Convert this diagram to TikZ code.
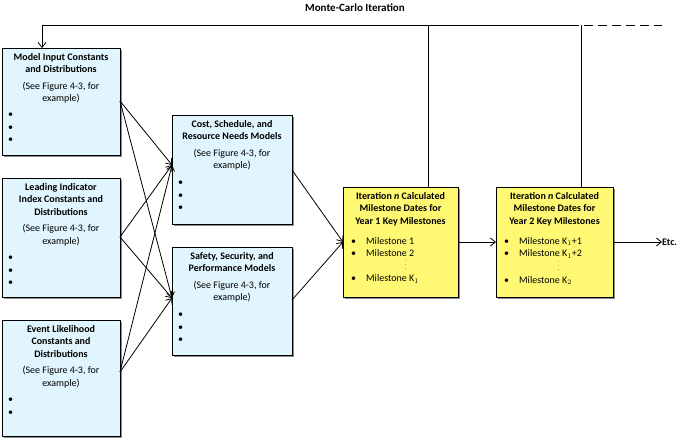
\documentclass[tikz,border=0pt]{standalone}
\usepackage{fontspec}
\setmainfont{Carlito}
\usetikzlibrary{arrows.meta,shadows}
\begin{document}
\begin{tikzpicture}[x=1pt,y=-1pt,
 box/.style={draw=black,line width=0.8pt,anchor=north west,inner sep=0,drop shadow={shadow xshift=2pt,shadow yshift=-2pt,fill=black!45,opacity=1}},
 cyan/.style={box,fill=cyan!12!white},
 yel/.style={box,fill=yellow!55!white},
 txt/.style={anchor=north,align=center,font=\fontsize{10}{12.5}\selectfont,inner sep=0},
 bul/.style={anchor=north west,align=left,font=\fontsize{10}{12.5}\selectfont,inner sep=0},
 ar/.style={-{Straight Barb[length=5pt,width=8pt]},line width=0.8pt},
 ln/.style={line width=0.8pt}]
\useasboundingbox (0,0) rectangle (685,441);
% boxes
\node[cyan,minimum width=118,minimum height=107] (i1) at (2,48) {};
\node[cyan,minimum width=118,minimum height=119] (i2) at (2,178) {};
\node[cyan,minimum width=118,minimum height=116] (i3) at (2,320) {};
\node[cyan,minimum width=120,minimum height=109] (m1) at (172,115) {};
\node[cyan,minimum width=120,minimum height=108] (m2) at (172,247) {};
\node[yel,minimum width=115,minimum height=110] (y1) at (343,187) {};
\node[yel,minimum width=117,minimum height=110] (y2) at (496,187) {};
% texts
\node[txt] (t1) at (61,53) {\textbf{Model Input Constants}\\\textbf{and Distributions}\\[4pt](See Figure 4-3, for\\example)};
\node[bul] (b1) at (8,113) {•\\•\\•};
\node[txt] (t2) at (61,183) {\textbf{Leading Indicator}\\\textbf{Index Constants and}\\\textbf{Distributions}\\[4pt](See Figure 4-3, for\\example)};
\node[bul] (b2) at (8,256) {•\\•\\•};
\node[txt] (t3) at (61,325) {\textbf{Event Likelihood}\\\textbf{Constants and}\\\textbf{Distributions}\\[4pt](See Figure 4-3, for\\example)};
\node[bul] (b3) at (8,398) {•\\•};
\node[txt] (t4) at (232,120) {\textbf{Cost, Schedule, and}\\\textbf{Resource Needs Models}\\[4pt](See Figure 4-3, for\\example)};
\node[bul] (b4) at (178,181) {•\\•\\•};
\node[txt] (t5) at (232,252) {\textbf{Safety, Security, and}\\\textbf{Performance Models}\\[4pt](See Figure 4-3, for\\example)};
\node[bul] (b5) at (178,313) {•\\•\\•};
\node[txt] (t6) at (400.5,192) {\textbf{Iteration \textit{n} Calculated}\\\textbf{Milestone Dates for}\\\textbf{Year 1 Key Milestones}};
\node[bul] (b6) at (351,237) {•\quad Milestone 1\\•\quad Milestone 2\\[-3pt]\hspace{54pt}\raisebox{2pt}{\tiny$\vdots$}\\[-2pt]•\quad Milestone K$_1$};
\node[txt] (t7) at (554.5,192) {\textbf{Iteration \textit{n} Calculated}\\\textbf{Milestone Dates for}\\\textbf{Year 2 Key Milestones}};
\node[bul] (b7) at (504,237) {•\quad Milestone K$_1$+1\\•\quad Milestone K$_1$+2\\[-3pt]\hspace{54pt}\raisebox{2pt}{\tiny$\vdots$}\\[-2pt]•\quad Milestone K$_2$};
\node[font=\fontsize{10}{12}\selectfont\bfseries,anchor=west,inner sep=0] (etc) at (662,242) {Etc.};
\node[font=\fontsize{11}{13}\selectfont\bfseries,inner sep=0] (title) at (355,8) {Monte-Carlo Iteration};
% fan connectors
\coordinate (s1) at (120,101);
\coordinate (s2) at (120,237);
\coordinate (s3) at (120,372);
\coordinate (e1) at (172,165);
\coordinate (e2) at (172,298);
\foreach \s in {s1,s2,s3}{\draw[ar] (\s) -- (e1); \draw[ar] (\s) -- (e2);}
\coordinate (f1) at (292,170);
\coordinate (f2) at (292,300);
\coordinate (g) at (343,242);
\draw[ar] (f1) -- (g);
\draw[ar] (f2) -- (g);
\draw[ar] (y1.east |- g) -- (y2.west |- g);
\draw[ar] (y2.east |- g) -- (etc.west);
% loop
\coordinate (l0) at (42,25);
\coordinate (l1) at (570,25);
\coordinate (l2) at (662,25);
\coordinate (v1) at (428,25);
\coordinate (v2) at (581,25);
\draw[ar] (l1) -- (l0) -- (i1.north -| l0);
\draw[ln,dash pattern=on 9pt off 5pt] (l1) -- (l2);
\draw[ln] (y1.north -| v1) -- (v1);
\draw[ln] (y2.north -| v2) -- (v2);
\end{tikzpicture}
\end{document}
